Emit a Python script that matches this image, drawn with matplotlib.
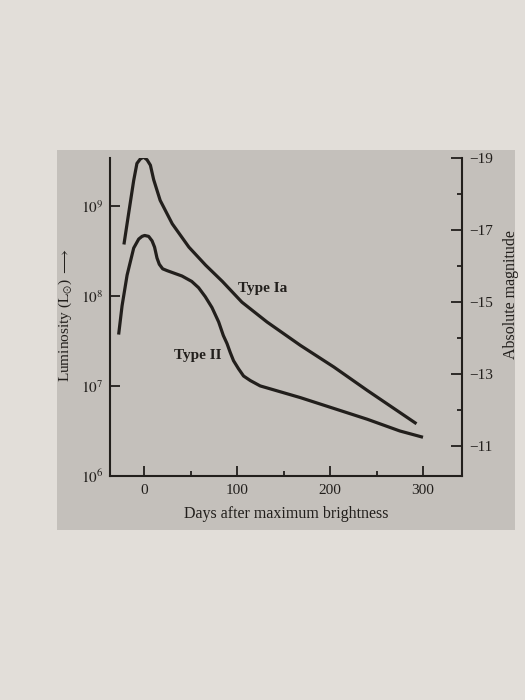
import numpy as np
import matplotlib
matplotlib.use("Agg")
import matplotlib.pyplot as plt
from matplotlib.patches import Rectangle

plt.rcParams['font.family'] = ['Liberation Serif', 'DejaVu Serif']
plt.rcParams['mathtext.fontset'] = 'stix'

# ---- data ----
ia_days = [-22, -17, -11.5, -8, -4.3, -0.8, 2.9, 6.5, 10, 17, 30, 48, 66, 84,
           105, 132, 168, 204, 240, 293]
ia_log_lum = [8.57, 8.91, 9.28, 9.47, 9.52, 9.54, 9.51, 9.45, 9.29, 9.06, 8.80,
              8.54, 8.34, 8.16, 7.93, 7.71, 7.45, 7.21, 6.95, 6.58]

ii_days = [-27.7, -24, -18.6, -11.5, -6.1, -2.5, 0.3, 4.6, 8.3, 11, 13.6, 16.1,
           19.7, 24.4, 40.5, 51, 58.4, 65.6, 72.8, 80, 85, 89, 92.5, 96, 101.4,
           106.8, 114, 124.7, 168, 204, 240, 275, 300]
ii_log_lum = [7.57, 7.89, 8.23, 8.53, 8.63, 8.66, 8.67, 8.66, 8.61, 8.54, 8.42,
              8.35, 8.30, 8.28, 8.22, 8.16, 8.09, 7.99, 7.87, 7.71, 7.56, 7.47,
              7.37, 7.28, 7.19, 7.11, 7.06, 7.00, 6.87, 6.75, 6.63, 6.50, 6.43]

x_major = [0, 100, 200, 300]
x_minor = [50, 150, 250]
lum_ticks = [1e6, 1e7, 1e8, 1e9]
lum_labels = [r'$10^{6}$', r'$10^{7}$', r'$10^{8}$', r'$10^{9}$']
mag_major = [-19, -17, -15, -13, -11]
mag_minor = [-18, -16, -14, -12]
M_SUN = 4.83

# ---- figure ----
page = '#e2ded9'
panel = '#c4c0bb'
ink = '#221f1c'

fig = plt.figure(figsize=(5.25, 7.0), dpi=100, facecolor=page)
fig.patches.append(Rectangle((57/525, 1 - 530/700), (515-57)/525, 380/700,
                             transform=fig.transFigure, facecolor=panel,
                             edgecolor='none', zorder=-5))

ax = fig.add_axes([110/525, 1 - 476/700, (462-110)/525, (476-158)/700])
ax.set_facecolor('none')
ax.set_yscale('log')
ax.set_xlim(-37, 342)
ylo, yhi = 1e6, 10 ** 9.53
ax.set_ylim(ylo, yhi)

ax.plot(ia_days, [10 ** v for v in ia_log_lum], color=ink, lw=2.3,
        solid_joinstyle='round', solid_capstyle='butt')
ax.plot(ii_days, [10 ** v for v in ii_log_lum], color=ink, lw=2.3,
        solid_joinstyle='round', solid_capstyle='butt')

ax.text(127, 10 ** 8.08, 'Type Ia', fontsize=11, fontweight='bold', color=ink,
        ha='center', va='center')
ax.text(57, 10 ** 7.34, 'Type II', fontsize=11, fontweight='bold', color=ink,
        ha='center', va='center')

for s in ['top', 'right']:
    ax.spines[s].set_visible(False)
for s in ['left', 'bottom']:
    ax.spines[s].set_linewidth(1.5)
    ax.spines[s].set_color(ink)

ax.set_xticks(x_major)
ax.set_xticks(x_minor, minor=True)
ax.set_xticklabels([str(v) for v in x_major])
ax.tick_params(axis='x', which='major', direction='in', length=7, width=1.3,
               colors=ink, labelsize=11, pad=6)
ax.tick_params(axis='x', which='minor', direction='in', length=3.5, width=1.3,
               colors=ink)

ax.set_yticks(lum_ticks)
ax.set_yticklabels(lum_labels)
ax.yaxis.set_minor_locator(matplotlib.ticker.NullLocator())
ax.tick_params(axis='y', which='major', direction='in', length=7, width=1.3,
               colors=ink, labelsize=11, pad=5)
ax.set_xlabel('Days after maximum brightness', fontsize=11.5, color=ink,
              labelpad=6)

ax2 = ax.twinx()
ax2.set_facecolor('none')
ax2.set_ylim(M_SUN - 2.5 * np.log10(ylo), M_SUN - 2.5 * np.log10(yhi))
for s in ['top', 'left', 'bottom']:
    ax2.spines[s].set_visible(False)
ax2.spines['right'].set_linewidth(1.5)
ax2.spines['right'].set_color(ink)
ax2.set_yticks(mag_major)
ax2.set_yticks(mag_minor, minor=True)
ax2.set_yticklabels(['\u2212%d' % abs(v) for v in mag_major])
ax2.tick_params(axis='y', which='major', direction='in', length=8, width=1.3,
                colors=ink, labelsize=11, pad=5)
ax2.tick_params(axis='y', which='minor', direction='in', length=3.5, width=1.3,
                colors=ink)
ax2.set_ylabel('Absolute magnitude', fontsize=11.5, color=ink)
ax2.yaxis.set_label_coords((503 - 110) / 352, (476 - 295) / 318)

fig.text(65/525, 1 - 315/700, r'Luminosity ($\mathrm{L}_{\odot}$) $\longrightarrow$',
         rotation=90, fontsize=11, color=ink, ha='center', va='center')

fig.savefig('out.png', dpi=100, facecolor=page)
